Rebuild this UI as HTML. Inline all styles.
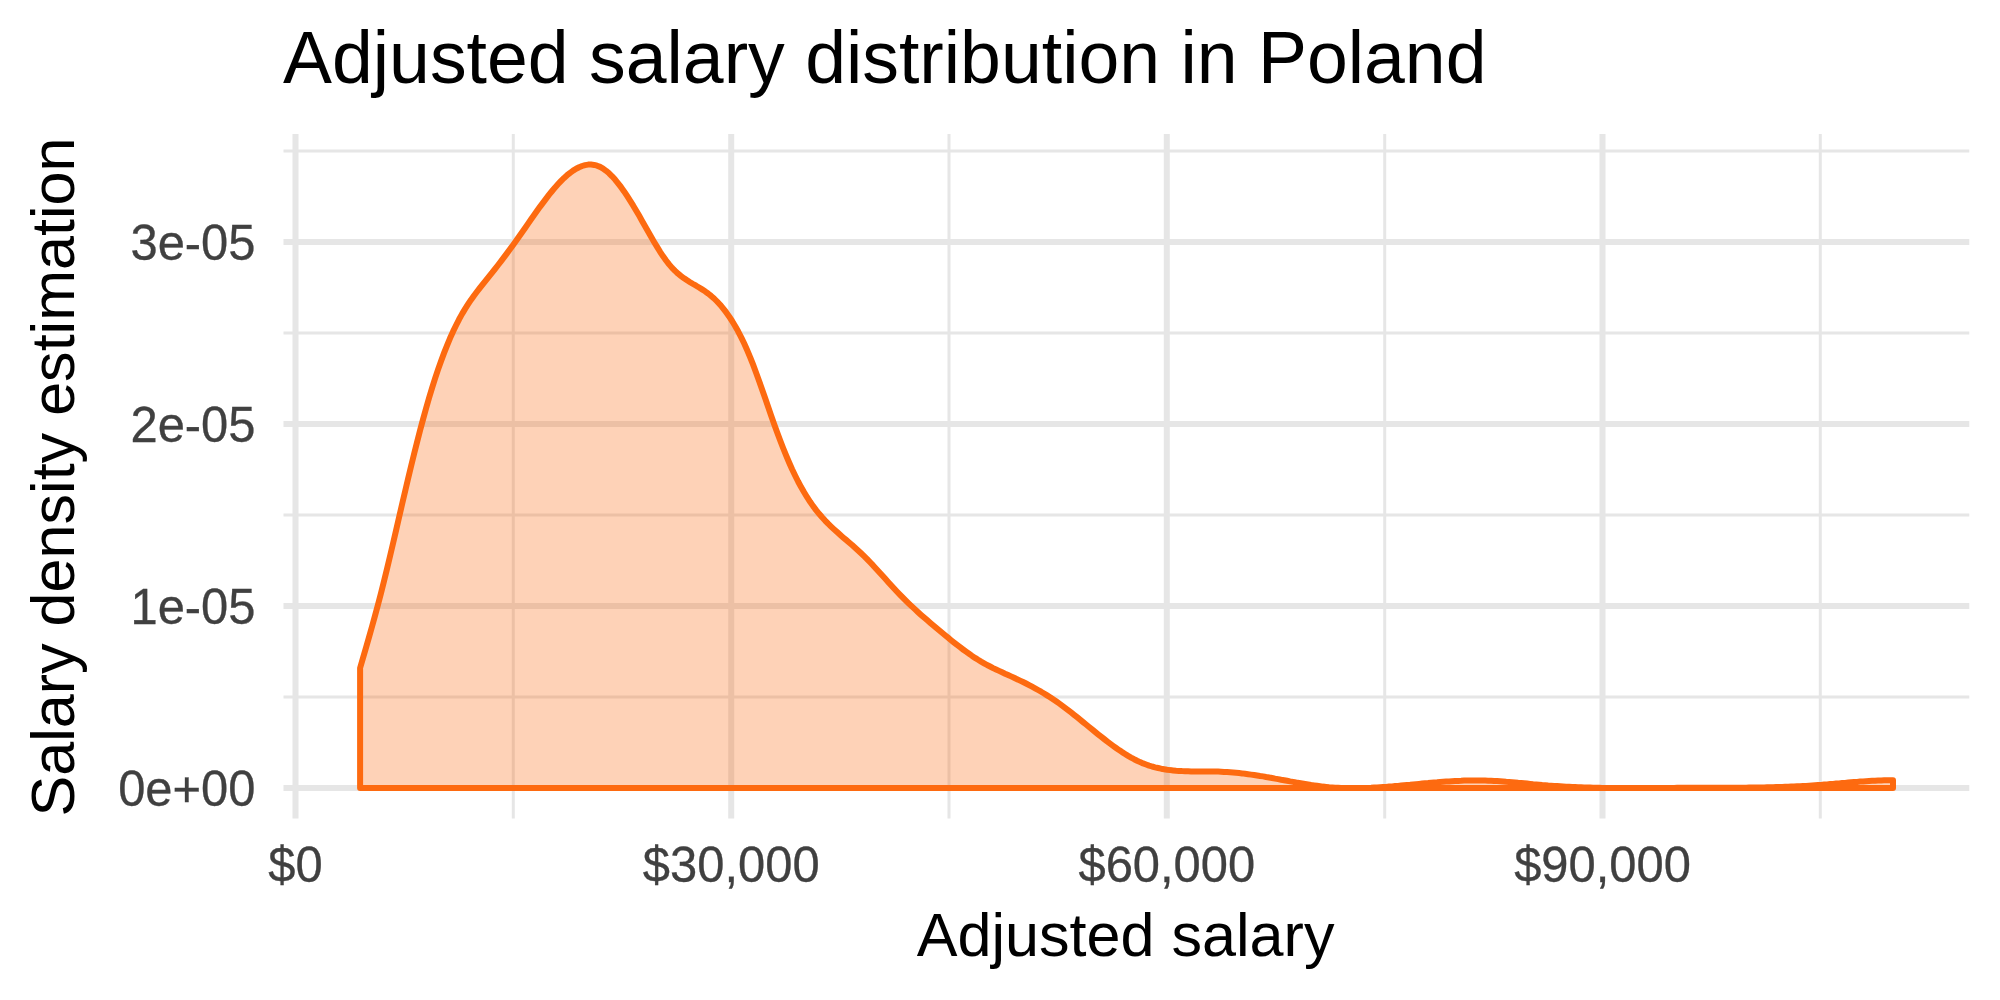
<!DOCTYPE html>
<html><head><meta charset="utf-8"><title>Adjusted salary distribution in Poland</title>
<style>
html,body{margin:0;padding:0;background:#fff;}
body{width:2000px;height:1000px;overflow:hidden;}
svg{display:block;}
text{font-family:"Liberation Sans",sans-serif;}
</style></head><body>
<svg width="2000" height="1000" viewBox="0 0 2000 1000">
<rect width="2000" height="1000" fill="#ffffff"/>
<!-- grid -->
<g stroke="#E6E6E6" fill="none" stroke-linecap="butt">
 <g stroke-width="3">
  <path d="M283.5 150.9H1969.3M283.5 332.9H1969.3M283.5 514.9H1969.3M283.5 696.9H1969.3"/>
  <path d="M513.3 134V818.6M949 134V818.6M1384.7 134V818.6M1820.3 134V818.6"/>
 </g>
 <g stroke-width="6">
  <path d="M283.5 241.9H1969.3M283.5 423.9H1969.3M283.5 605.9H1969.3M283.5 787.9H1969.3"/>
  <path d="M295.5 134V818.6M731.2 134V818.6M1166.8 134V818.6M1602.5 134V818.6"/>
 </g>
</g>
<!-- density -->
<path id="dens" fill="#FD6A10" fill-opacity="0.3" stroke="#FD6A10" stroke-width="6" stroke-linejoin="round" stroke-linecap="butt" d="M360.1 787.9L360.1 668.0 363.1 657.7 366.1 647.4 369.1 636.9 372.1 626.3 375.1 615.4 378.1 604.2 381.1 592.7 384.1 580.8 387.1 568.5 390.1 555.9 393.1 543.1 396.1 530.2 399.1 517.2 402.1 504.2 405.1 491.4 408.1 478.6 411.1 466.1 414.1 453.9 417.1 441.9 420.1 430.3 423.1 419.1 426.1 408.3 429.1 397.8 432.1 387.9 435.1 378.4 438.1 369.4 441.1 360.9 444.1 352.9 447.1 345.3 450.1 338.1 453.1 331.4 456.1 325.2 459.1 319.3 462.1 313.9 465.1 308.9 468.1 304.2 471.1 299.7 474.1 295.5 477.1 291.5 480.1 287.6 483.1 283.8 486.1 280.1 489.1 276.4 492.1 272.7 495.1 268.8 498.1 265.0 501.1 261.1 504.1 257.1 507.1 253.1 510.1 249.0 513.1 244.9 516.1 240.7 519.1 236.5 522.1 232.3 525.1 228.0 528.1 223.6 531.1 219.3 534.1 215.1 537.1 210.8 540.1 206.6 543.1 202.6 546.1 198.6 549.1 194.7 552.1 191.0 555.1 187.4 558.1 184.1 561.1 180.9 564.1 177.9 567.1 175.2 570.1 172.8 573.1 170.6 576.1 168.7 579.1 167.2 582.1 166.0 585.1 165.1 588.1 164.6 591.1 164.6 594.1 164.9 597.1 165.7 600.1 166.9 603.1 168.6 606.1 170.8 609.1 173.3 612.1 176.3 615.1 179.6 618.1 183.3 621.1 187.2 624.1 191.4 627.1 195.9 630.1 200.6 633.1 205.4 636.1 210.5 639.1 215.6 642.1 220.9 645.1 226.2 648.1 231.5 651.1 236.8 654.1 241.9 657.1 246.9 660.1 251.8 663.1 256.3 666.1 260.5 669.1 264.4 672.1 267.9 675.1 270.9 678.1 273.7 681.1 276.1 684.1 278.3 687.1 280.3 690.1 282.2 693.1 284.0 696.1 285.7 699.1 287.5 702.1 289.4 705.1 291.3 708.1 293.5 711.1 295.9 714.1 298.5 717.1 301.5 720.1 304.7 723.1 308.3 726.1 312.2 729.1 316.4 732.1 321.0 735.1 326.0 738.1 331.3 741.1 337.1 744.1 343.3 747.1 350.0 750.1 357.1 753.1 364.7 756.1 372.7 759.1 381.0 762.1 389.5 765.1 398.1 768.1 406.8 771.1 415.4 774.1 423.9 777.1 432.3 780.1 440.3 783.1 448.0 786.1 455.4 789.1 462.5 792.1 469.2 795.1 475.5 798.1 481.5 801.1 487.1 804.1 492.3 807.1 497.2 810.1 501.8 813.1 506.1 816.1 510.1 819.1 513.8 822.1 517.3 825.1 520.6 828.1 523.7 831.1 526.6 834.1 529.4 837.1 532.1 840.1 534.8 843.1 537.4 846.1 539.9 849.1 542.5 852.1 545.0 855.1 547.7 858.1 550.4 861.1 553.2 864.1 556.1 867.1 559.1 870.1 562.3 873.1 565.4 876.1 568.7 879.1 572.0 882.1 575.3 885.1 578.6 888.1 581.9 891.1 585.2 894.1 588.5 897.1 591.7 900.1 594.8 903.1 597.9 906.1 600.9 909.1 603.8 912.1 606.6 915.1 609.4 918.1 612.2 921.1 614.9 924.1 617.5 927.1 620.1 930.1 622.7 933.1 625.2 936.1 627.8 939.1 630.3 942.1 632.8 945.1 635.3 948.1 637.7 951.1 640.2 954.1 642.6 957.1 644.9 960.1 647.2 963.1 649.5 966.1 651.7 969.1 653.8 972.1 655.9 975.1 657.9 978.1 659.8 981.1 661.6 984.1 663.3 987.1 665.0 990.1 666.5 993.1 668.1 996.1 669.5 999.1 670.9 1002.1 672.3 1005.1 673.7 1008.1 675.0 1011.1 676.4 1014.1 677.8 1017.1 679.2 1020.1 680.6 1023.1 682.0 1026.1 683.5 1029.1 685.1 1032.1 686.7 1035.1 688.3 1038.1 690.0 1041.1 691.7 1044.1 693.5 1047.1 695.4 1050.1 697.3 1053.1 699.3 1056.1 701.3 1059.1 703.4 1062.1 705.6 1065.1 707.8 1068.1 710.1 1071.1 712.4 1074.1 714.8 1077.1 717.2 1080.1 719.6 1083.1 722.1 1086.1 724.5 1089.1 727.0 1092.1 729.4 1095.1 731.9 1098.1 734.3 1101.1 736.7 1104.1 739.0 1107.1 741.4 1110.1 743.6 1113.1 745.8 1116.1 748.0 1119.1 750.1 1122.1 752.1 1125.1 754.0 1128.1 755.9 1131.1 757.6 1134.1 759.2 1137.1 760.7 1140.1 762.1 1143.1 763.4 1146.1 764.5 1149.1 765.6 1152.1 766.5 1155.1 767.3 1158.1 768.0 1161.1 768.7 1164.1 769.2 1167.1 769.7 1170.1 770.1 1173.1 770.4 1176.1 770.7 1179.1 770.9 1182.1 771.1 1185.1 771.2 1188.1 771.3 1191.1 771.4 1194.1 771.4 1197.1 771.4 1200.1 771.4 1203.1 771.4 1206.1 771.4 1209.1 771.5 1212.1 771.5 1215.1 771.5 1218.1 771.6 1221.1 771.7 1224.1 771.9 1227.1 772.1 1230.1 772.3 1233.1 772.5 1236.1 772.8 1239.1 773.1 1242.1 773.4 1245.1 773.8 1248.1 774.2 1251.1 774.6 1254.1 775.0 1257.1 775.5 1260.1 776.0 1263.1 776.4 1266.1 777.0 1269.1 777.5 1272.1 778.0 1275.1 778.6 1278.1 779.1 1281.1 779.7 1284.1 780.2 1287.1 780.8 1290.1 781.4 1293.1 781.9 1296.1 782.5 1299.1 783.0 1302.1 783.5 1305.1 784.0 1308.1 784.5 1311.1 785.0 1314.1 785.4 1317.1 785.8 1320.1 786.2 1323.1 786.6 1326.1 786.9 1329.1 787.2 1332.1 787.4 1335.1 787.7 1338.1 787.8 1341.1 787.9 1344.1 787.9 1347.1 787.9 1350.1 787.9 1353.1 787.9 1356.1 787.9 1359.1 787.9 1362.1 787.9 1365.1 787.9 1368.1 787.9 1371.1 787.8 1374.1 787.6 1377.1 787.5 1380.1 787.3 1383.1 787.1 1386.1 786.9 1389.1 786.6 1392.1 786.4 1395.1 786.1 1398.1 785.9 1401.1 785.6 1404.1 785.3 1407.1 785.0 1410.1 784.8 1413.1 784.5 1416.1 784.2 1419.1 783.9 1422.1 783.6 1425.1 783.3 1428.1 783.1 1431.1 782.8 1434.1 782.5 1437.1 782.3 1440.1 782.0 1443.1 781.8 1446.1 781.6 1449.1 781.4 1452.1 781.2 1455.1 781.0 1458.1 780.9 1461.1 780.8 1464.1 780.6 1467.1 780.6 1470.1 780.5 1473.1 780.5 1476.1 780.4 1479.1 780.5 1482.1 780.5 1485.1 780.6 1488.1 780.7 1491.1 780.8 1494.1 781.0 1497.1 781.1 1500.1 781.3 1503.1 781.5 1506.1 781.8 1509.1 782.0 1512.1 782.2 1515.1 782.5 1518.1 782.8 1521.1 783.0 1524.1 783.3 1527.1 783.6 1530.1 783.9 1533.1 784.2 1536.1 784.4 1539.1 784.7 1542.1 785.0 1545.1 785.2 1548.1 785.5 1551.1 785.7 1554.1 785.9 1557.1 786.1 1560.1 786.3 1563.1 786.5 1566.1 786.7 1569.1 786.8 1572.1 787.0 1575.1 787.1 1578.1 787.2 1581.1 787.3 1584.1 787.4 1587.1 787.5 1590.1 787.6 1593.1 787.7 1596.1 787.8 1599.1 787.8 1602.1 787.9 1605.1 787.9 1608.1 787.9 1611.1 787.9 1614.1 787.9 1617.1 787.9 1620.1 787.9 1623.1 787.9 1626.1 787.9 1629.1 787.9 1632.1 787.9 1635.1 787.9 1638.1 787.9 1641.1 787.9 1644.1 787.9 1647.1 787.9 1650.1 787.9 1653.1 787.9 1656.1 787.9 1659.1 787.9 1662.1 787.9 1665.1 787.9 1668.1 787.9 1671.1 787.9 1674.1 787.9 1677.1 787.8 1680.1 787.8 1683.1 787.8 1686.1 787.8 1689.1 787.8 1692.1 787.8 1695.1 787.8 1698.1 787.8 1701.1 787.8 1704.1 787.8 1707.1 787.8 1710.1 787.8 1713.1 787.8 1716.1 787.8 1719.1 787.8 1722.1 787.8 1725.1 787.8 1728.1 787.8 1731.1 787.8 1734.1 787.7 1737.1 787.7 1740.1 787.7 1743.1 787.7 1746.1 787.7 1749.1 787.6 1752.1 787.6 1755.1 787.6 1758.1 787.5 1761.1 787.5 1764.1 787.4 1767.1 787.3 1770.1 787.3 1773.1 787.2 1776.1 787.1 1779.1 787.0 1782.1 786.9 1785.1 786.8 1788.1 786.7 1791.1 786.6 1794.1 786.5 1797.1 786.3 1800.1 786.2 1803.1 786.0 1806.1 785.9 1809.1 785.7 1812.1 785.5 1815.1 785.3 1818.1 785.1 1821.1 784.9 1824.1 784.6 1827.1 784.4 1830.1 784.1 1833.1 783.9 1836.1 783.6 1839.1 783.4 1842.1 783.1 1845.1 782.9 1848.1 782.6 1851.1 782.3 1854.1 782.1 1857.1 781.9 1860.1 781.6 1863.1 781.4 1866.1 781.2 1869.1 781.0 1872.1 780.8 1875.1 780.7 1878.1 780.5 1881.1 780.4 1884.1 780.3 1887.1 780.3 1890.1 780.2 1893.0 780.2 L1893.0 787.9Z"/>
<!-- text -->
<text x="283" y="83" font-size="73.4" fill="#000">Adjusted salary distribution in Poland</text>
<g font-size="48.9" fill="#404040" stroke="#404040" stroke-width="0.3" text-anchor="end">
 <text transform="translate(255.5,260.3) scale(1,1.016)">3e-05</text>
 <text transform="translate(255.5,442.3) scale(1,1.016)">2e-05</text>
 <text transform="translate(255.5,624.3) scale(1,1.016)">1e-05</text>
 <text transform="translate(255.5,806.3) scale(1,1.016)">0e+00</text>
</g>
<g font-size="48.9" fill="#404040" stroke="#404040" stroke-width="0.3" text-anchor="middle">
 <text transform="translate(295.5,882) scale(1,1.016)">$0</text>
 <text transform="translate(731.2,882) scale(1,1.016)">$30,000</text>
 <text transform="translate(1166.8,882) scale(1,1.016)">$60,000</text>
 <text transform="translate(1602.5,882) scale(1,1.016)">$90,000</text>
</g>
<text x="1125.6" y="956" font-size="61.1" fill="#000" text-anchor="middle">Adjusted salary</text>
<text transform="translate(74.4,477) rotate(-90)" font-size="61.1" fill="#000" text-anchor="middle">Salary density estimation</text>
</svg>
</body></html>
